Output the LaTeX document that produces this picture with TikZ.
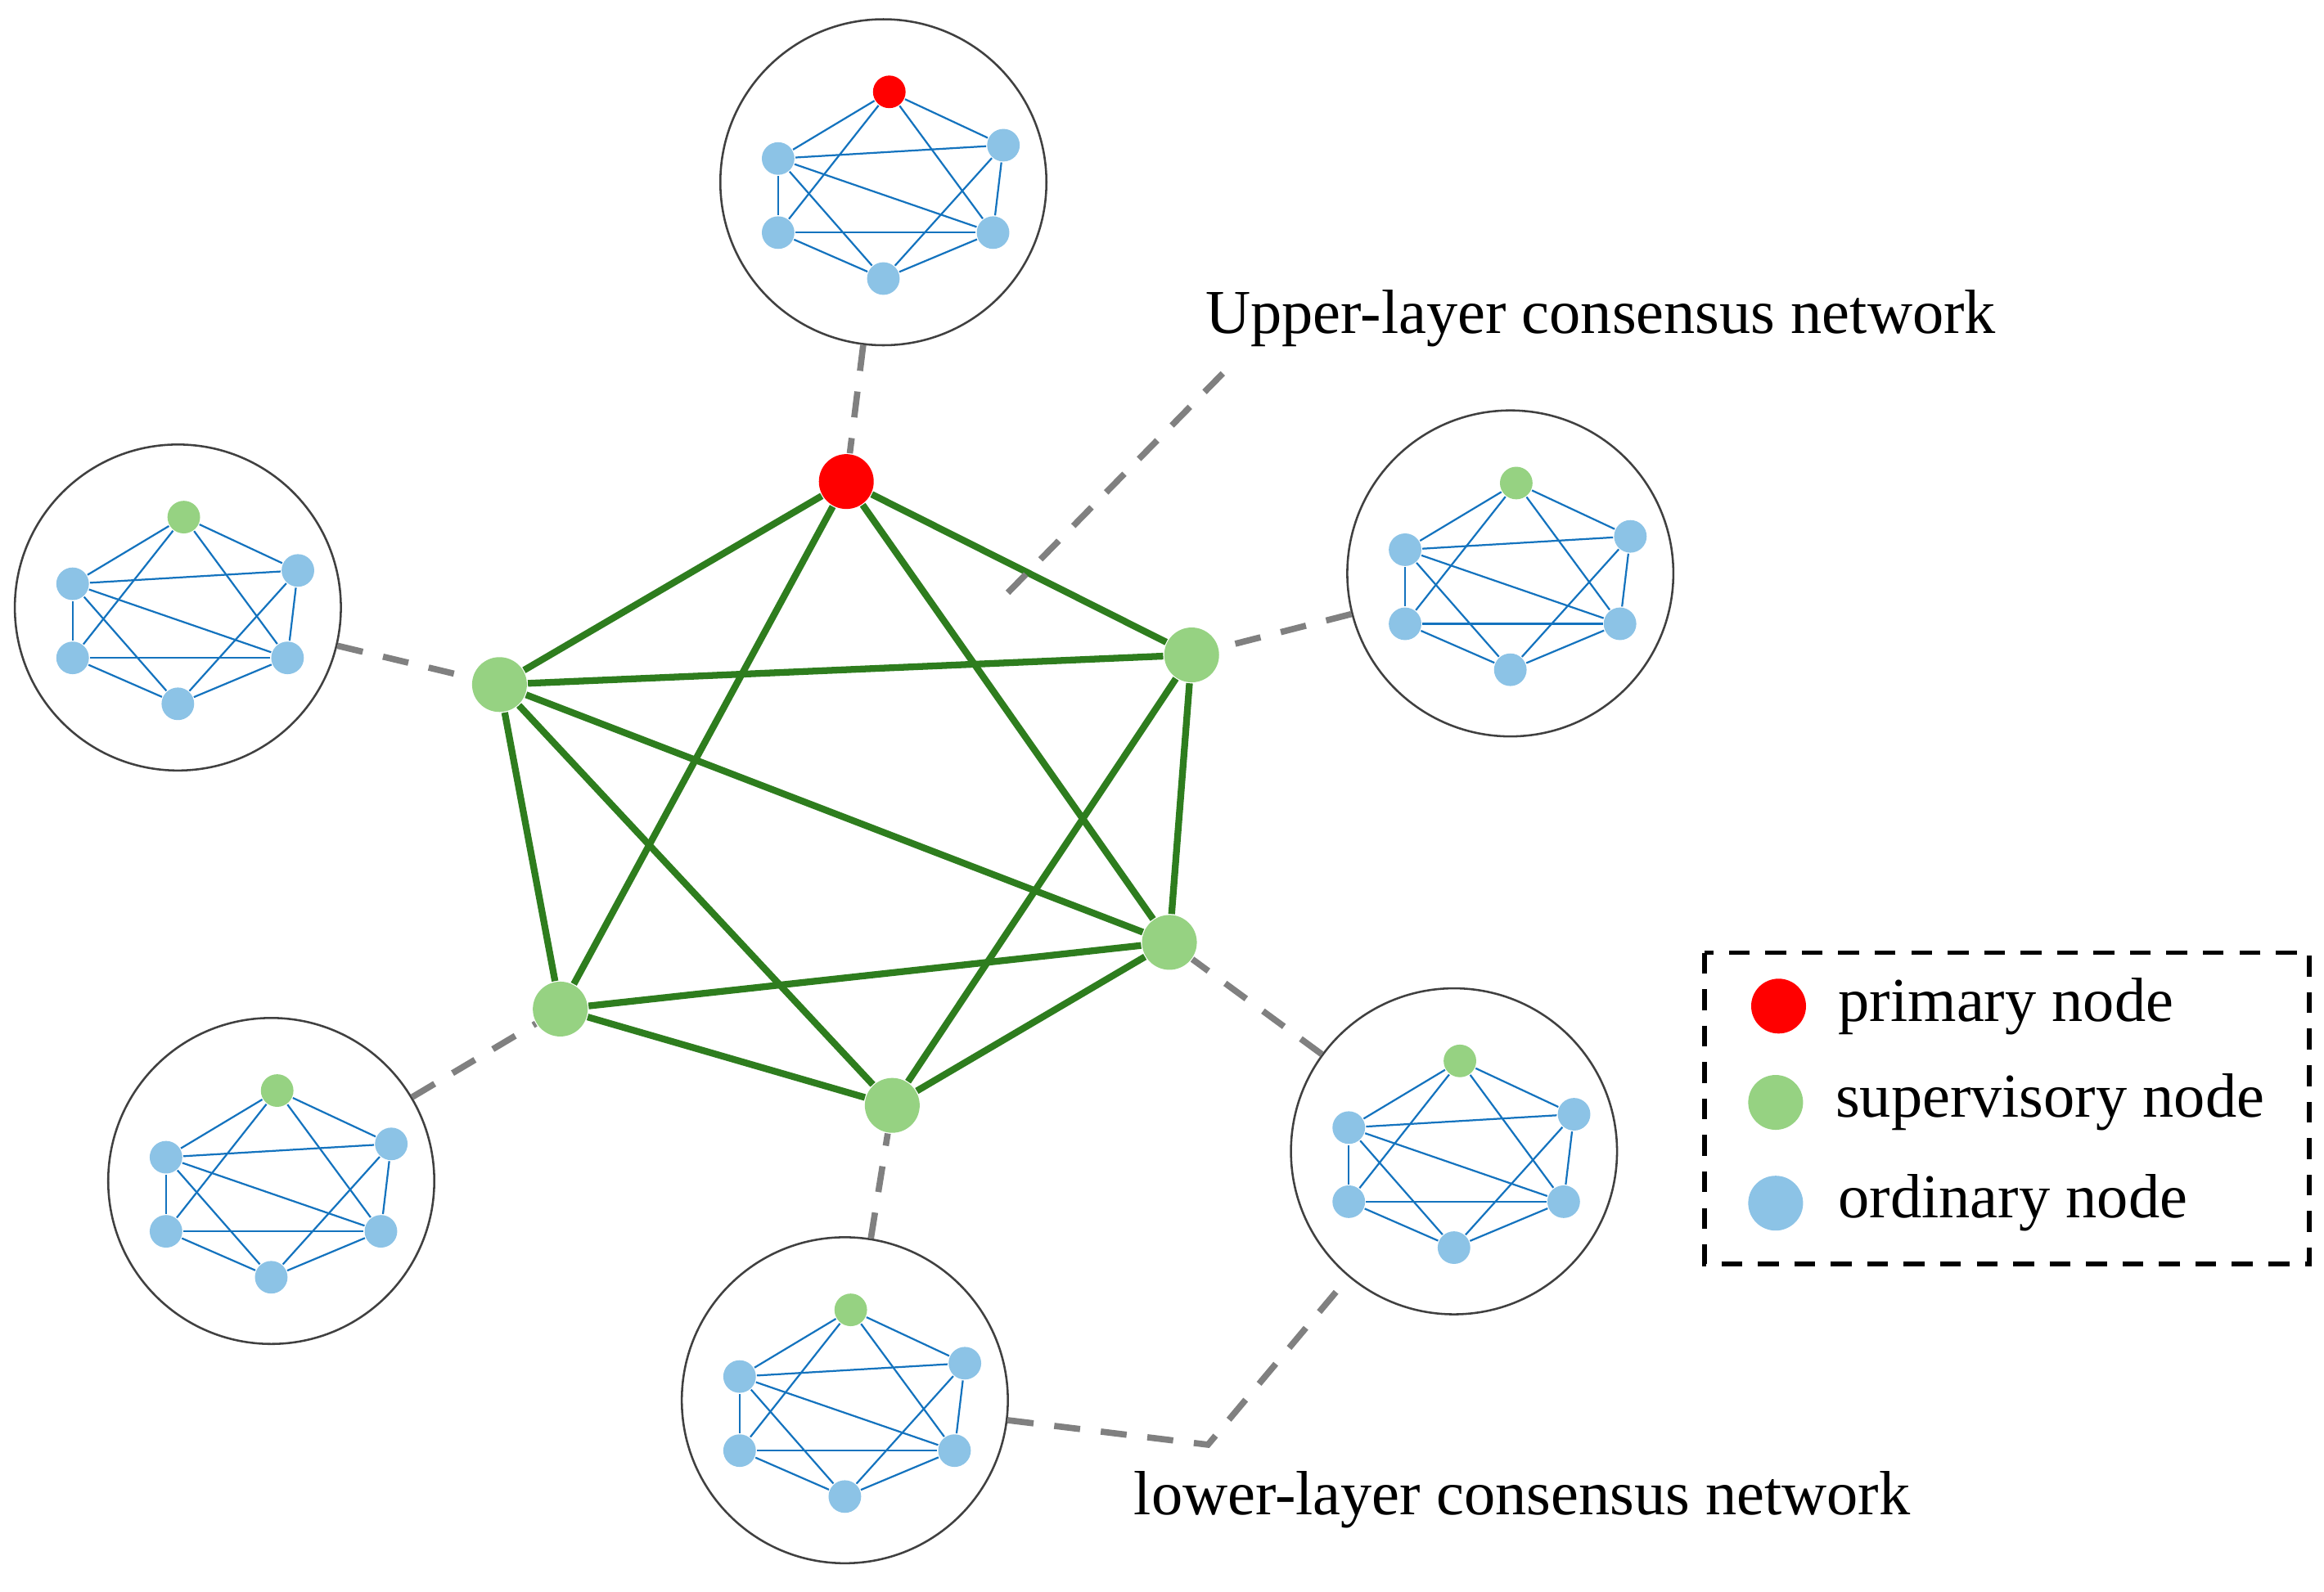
\documentclass[tikz,border=0pt]{standalone}
\usepackage{fontspec}
\setmainfont{Liberation Serif}
\begin{document}
\definecolor{edgegreen}{RGB}{46,125,30}
\definecolor{nodegreen}{RGB}{150,210,130}
\definecolor{nodeblue}{RGB}{140,195,230}
\definecolor{linkblue}{RGB}{20,115,190}
\begin{tikzpicture}[
x=1cm,y=1cm,
big/.style={circle, fill=nodegreen, minimum size=3.7mm, inner sep=0pt},
small/.style={circle, fill=nodeblue, minimum size=2.2mm, inner sep=0pt},
cluster/.style={circle, draw=black!75, thin, minimum size=22mm, inner sep=0pt},
link/.style={dashed, gray, line width=1.2pt, dash pattern=on 5pt off 4pt}
]
\useasboundingbox (0,0) rectangle (15.68,-10.744);

% clusters of the lower layer
\foreach \n/\x/\y/\c in {t/5.96/-1.23/red, l/1.20/-4.10/nodegreen, r/10.19/-3.87/nodegreen,
  ll/1.83/-7.97/nodegreen, lr/9.81/-7.77/nodegreen, b/5.70/-9.45/nodegreen}{
  \node[cluster] (\n) at (\x,\y) {};
  \node[small, fill=\c] (\n1) at (\x+0.04,\y+0.61) {};
  \node[small] (\n2) at (\x-0.71,\y+0.16) {};
  \node[small] (\n3) at (\x+0.81,\y+0.25) {};
  \node[small] (\n4) at (\x-0.71,\y-0.34) {};
  \node[small] (\n5) at (\x+0.74,\y-0.34) {};
  \node[small] (\n6) at (\x,\y-0.65) {};
  \foreach \i/\k in {1/2,1/3,1/4,1/5,2/3,2/4,2/5,2/6,3/5,3/6,4/5,4/6,5/6}{
    \draw[linkblue, line width=0.35pt] (\n\i) -- (\n\k);
  }
}

% upper layer
\node[big, fill=red] (p0) at (5.71,-3.25) {};
\node[big] (p1) at (3.37,-4.62) {};
\node[big] (p2) at (8.04,-4.42) {};
\node[big] (p3) at (7.89,-6.36) {};
\node[big] (p4) at (3.78,-6.81) {};
\node[big] (p5) at (6.02,-7.46) {};
\foreach \i/\k in {0/1,0/2,0/3,0/4,1/2,1/3,1/4,1/5,2/3,2/5,3/4,3/5,4/5}{
  \draw[edgegreen, line width=1.3pt] (p\i) -- (p\k);
}

% dashed connectors
\draw[link] (t) -- (p0);
\draw[link] (l) -- (p1);
\draw[link] (r) -- (p2);
\draw[link] (lr) -- (p3);
\draw[link] (ll) -- (p4);
\draw[link] (b) -- (p5);

% labels
\node (up) at (10.80,-2.15) {\fontsize{12}{14}\selectfont Upper-layer consensus network};
\coordinate (upa) at (8.25,-2.52);
\coordinate (upb) at (6.80,-4.00);
\draw[link] (upa) -- (upb);
\node (low) at (10.27,-10.12) {\fontsize{12}{14}\selectfont lower-layer consensus network};
\coordinate (lowa) at (8.15,-9.75);
\draw[link] (b) -- (lowa) -- (lr);

% legend
\draw[dashed, line width=0.9pt, dash pattern=on 4pt off 3pt] (11.50,-6.43) rectangle (15.58,-8.53);
\node[big, fill=red] (k1) at (12.00,-6.79) {};
\node[big] (k2) at (11.98,-7.44) {};
\node[big, fill=nodeblue] (k3) at (11.98,-8.12) {};
\node[right] at (12.28,-6.79) {\fontsize{12}{14}\selectfont primary node};
\node[right] at (12.26,-7.44) {\fontsize{12}{14}\selectfont supervisory node};
\node[right] at (12.28,-8.12) {\fontsize{12}{14}\selectfont ordinary node};
\end{tikzpicture}
\end{document}
